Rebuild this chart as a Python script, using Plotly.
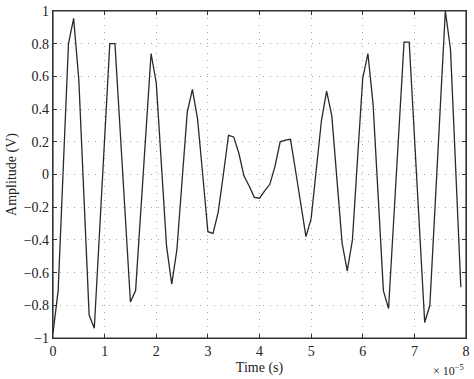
import plotly.graph_objects as go

# time in units of 1e-5 s
time = [round(i * 0.1, 1) for i in range(80)]
amplitude = [
    -0.97, -0.71, 0.05, 0.80, 0.955, 0.58, -0.14, -0.86, -0.94, -0.37,
    0.21, 0.80, 0.80, 0.27, -0.26, -0.78, -0.71, -0.23, 0.26, 0.74,
    0.56, 0.06, -0.44, -0.67, -0.46, -0.04, 0.38, 0.52, 0.34, 0.00,
    -0.35, -0.36, -0.23, 0.00, 0.24, 0.23, 0.13, -0.01, -0.07, -0.14,
    -0.145, -0.10, -0.06, 0.05, 0.20, 0.21, 0.215, 0.02, -0.18, -0.38,
    -0.27, 0.03, 0.33, 0.51, 0.36, -0.03, -0.42, -0.59, -0.40, 0.10,
    0.59, 0.74, 0.43, -0.14, -0.71, -0.82, -0.28, 0.27, 0.81, 0.81,
    0.24, -0.33, -0.905, -0.80, -0.19, 0.40, 1.0, 0.765, 0.04, -0.69,
]
x_ticks = [0, 1, 2, 3, 4, 5, 6, 7, 8]
y_ticks = [-1, -0.8, -0.6, -0.4, -0.2, 0, 0.2, 0.4, 0.6, 0.8, 1]
y_tick_labels = ["\u22121", "\u22120.8", "\u22120.6", "\u22120.4", "\u22120.2", "0",
                 "0.2", "0.4", "0.6", "0.8", "1"]

font = "Liberation Serif, DejaVu Serif, serif"

fig = go.Figure()
fig.add_trace(go.Scatter(x=time, y=amplitude, mode="lines",
                         line=dict(color="#2a2a2a", width=1.3), showlegend=False))

axis_common = dict(
    showline=True, linecolor="#333", linewidth=1.2, mirror="ticks",
    ticks="inside", ticklen=4, tickcolor="#333",
    showgrid=True, gridcolor="#a8a8a8", griddash="1px,6px", gridwidth=1.2,
    zeroline=False, tickfont=dict(family=font, size=14, color="#222"),
    ticklabeloverflow="allow",
)

fig.update_layout(
    width=474, height=379,
    margin=dict(l=53, r=4, t=7, b=41),
    paper_bgcolor="white", plot_bgcolor="white",
    font=dict(family=font, size=13, color="#222"),
    xaxis=dict(range=[0, 8], tickvals=x_ticks,
               title=dict(text="Time (s)", font=dict(family=font, size=14), standoff=4),
               **axis_common),
    yaxis=dict(range=[-1, 1], tickvals=y_ticks, ticktext=y_tick_labels,
               title=dict(text="Amplitude (V)", font=dict(family=font, size=14), standoff=3),
               **axis_common),
)
fig.add_shape(type="rect", xref="paper", yref="paper", x0=0, y0=0, x1=1, y1=1,
              line=dict(color="#333", width=1.2), layer="above")
fig.add_annotation(text="\u00d7 10<sup>\u22125</sup>", xref="paper", yref="paper",
                   x=1.0, y=0, xanchor="right", yanchor="middle", yshift=-32,
                   showarrow=False, font=dict(family=font, size=12, color="#222"))

fig.write_html("out.html")
